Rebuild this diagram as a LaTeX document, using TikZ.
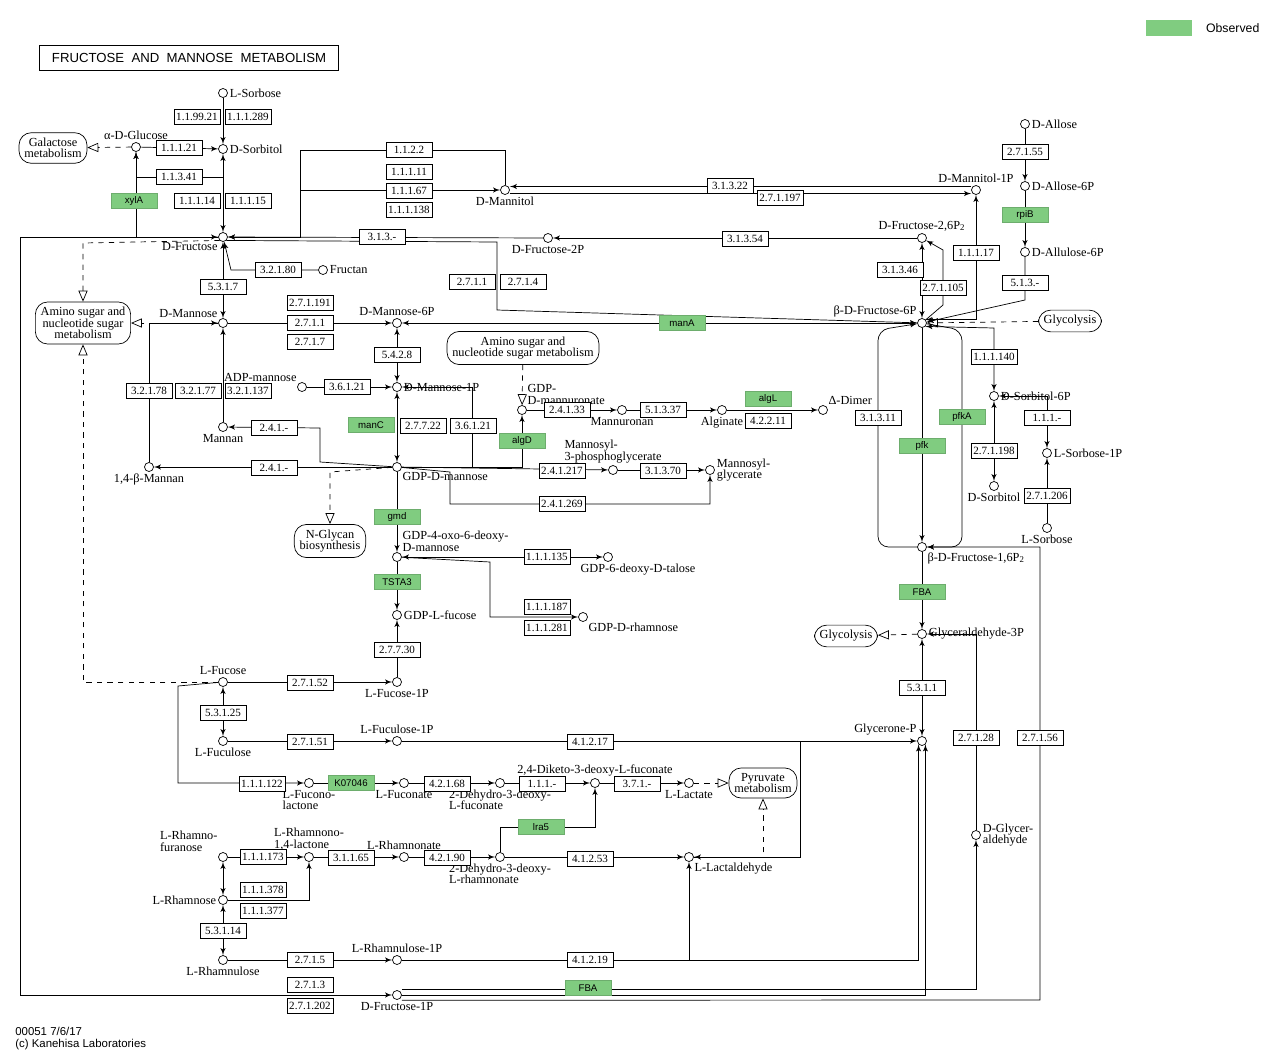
\documentclass[tikz,border=0pt]{standalone}
\usepackage{fontspec}
\setmainfont{Liberation Serif}
\newfontfamily\kegsans{Liberation Sans}
\usetikzlibrary{arrows, positioning}
\definecolor{obsgreen}{RGB}{128,204,128}

\begin{document}
\begin{tikzpicture}[
    x=0.02cm, y=-0.02cm,
    font=\fontsize{7}{7.5}\selectfont,
    cpd/.style={circle, draw, fill=white, inner sep=0pt, minimum size=0.18cm},
    lb/.style={inner sep=1pt, align=left, font=\fontsize{7}{6.5}\selectfont},
    ec/.style={rectangle, draw, fill=white, font=\fontsize{6.3}{6.3}\selectfont, minimum width=0.92cm, minimum height=0.3cm, inner sep=1pt},
    gene/.style={ec, fill=obsgreen, draw=obsgreen!85!black, font=\kegsans\fontsize{5.5}{5.5}\selectfont},
    map/.style={rectangle, rounded corners=7pt, draw, fill=white, align=center, font=\fontsize{7}{6.5}\selectfont, inner sep=3pt},
    rx/.style={draw, -latex'},
    rxb/.style={draw, latex'-latex'},
    lnk/.style={draw, dashed, -open triangle 45}
]
\useasboundingbox (0,0) rectangle (1286,1055);

% Title and legend
\node[draw, thick, minimum width=5.98cm, minimum height=0.5cm, font=\kegsans\fontsize{7.5}{7.5}\selectfont] (title) at (189,58) {FRUCTOSE\ \ AND\ \ MANNOSE\ \ METABOLISM};
\node[fill=obsgreen, minimum width=0.92cm, minimum height=0.32cm, inner sep=0pt] (legbox) at (1169,28) {};
\node[right=0.15cm of legbox, font=\kegsans\fontsize{7}{7}\selectfont] (legtxt) {Observed};
\node[anchor=north west, align=left, font=\kegsans\fontsize{6.5}{6.5}\selectfont, inner sep=0pt] (credit) at (15,1027) {00051 7/6/17\\(c) Kanehisa Laboratories};

% Maps
\node[map] (galmap) at (53,148) {Galactose\\metabolism};
\node[map] (amimap) at (83,323) {Amino sugar and\\nucleotide sugar\\metabolism};
\node[map] (amimap2) at (523,348) {Amino sugar and\\nucleotide sugar metabolism};
\node[map] (nglyc) at (330,541) {N-Glycan\\biosynthesis};
\node[map] (glyco1) at (1070,321) {Glycolysis};
\node[map] (glyco2) at (846,636) {Glycolysis};
\node[map] (pyrmap) at (763,783) {Pyruvate\\metabolism};

% Compounds
\node[cpd, label={[lb]right:L-Sorbose}] (sorbL) at (223,93) {};
\node[cpd, label={[lb]above:α-D-Glucose}] (glc) at (136,147) {};
\node[cpd, label={[lb]right:D-Sorbitol}] (sorbitol) at (223,149) {};
\node[cpd, label={[lb]below left:D-Fructose}] (fru) at (223,237) {};
\node[cpd, label={[lb]below:D-Mannitol}] (mtl) at (505,190) {};
\node[cpd, label={[lb]below:D-Fructose-2P}] (fru2p) at (548,238) {};
\node[cpd, label={[lb]right:Fructan}] (fructan) at (323,270) {};
\node[cpd, label={[lb]above left:D-Mannose}] (man) at (223,323) {};
\node[cpd, label={[lb]above:D-Mannose-6P}] (m6p) at (397,323) {};
\node[cpd, label={[lb]above left:ADP-mannose}] (adpman) at (302,387) {};
\node[cpd, label={[lb]right:D-Mannose-1P}] (m1p) at (397,387) {};
\node[cpd, label={[lb]below:Mannan}] (mannan) at (223,427) {};
\node[cpd, label={[lb]below:1,4-β-Mannan}] (bmannan) at (149,467) {};
\node[cpd, label={[lb]below right:GDP-D-mannose}] (gdpman) at (397,467) {};
\node[cpd, label={[lb]above right:GDP-\\D-mannuronate}] (gdpmnu) at (522,410) {};
\node[cpd, label={[lb]below:Mannuronan}] (mnuan) at (622,410) {};
\node[cpd, label={[lb]below:Alginate}] (alg) at (722,410) {};
\node[cpd, label={[lb]above right:Δ-Dimer}] (ddimer) at (823,410) {};
\node[cpd, label={[lb]above:Mannosyl-\\3-phosphoglycerate}] (m3pg) at (613,470) {};
\node[cpd, label={[lb]right:Mannosyl-\\glycerate}] (mglyc) at (710,470) {};
\node[cpd, label={[lb]above right:GDP-4-oxo-6-deoxy-\\D-mannose}] (gdpoxo) at (397,557) {};
\node[cpd, label={[lb, xshift=0.6cm]below:GDP-6-deoxy-D-talose}] (gdptal) at (608,557) {};
\node[cpd, label={[lb]below right:GDP-D-rhamnose}] (gdprha) at (583,617) {};
\node[cpd, label={[lb]right:GDP-L-fucose}] (gdpfuc) at (397,615) {};
\node[cpd, label={[lb]above:L-Fucose}] (fuc) at (223,682) {};
\node[cpd, label={[lb]below:L-Fucose-1P}] (fuc1p) at (397,682) {};
\node[cpd, label={[lb]below:L-Fuculose}] (fcl) at (223,741) {};
\node[cpd, label={[lb]above:L-Fuculose-1P}] (fcl1p) at (397,741) {};
\node[cpd, label={[lb]below:L-Fucono-\\lactone}] (fclac) at (309,783) {};
\node[cpd, label={[lb]below:L-Fuconate}] (fcon) at (404,783) {};
\node[cpd, label={[lb]below:2-Dehydro-3-deoxy-\\L-fuconate}] (dhf) at (500,783) {};
\node[cpd, label={[lb]above:2,4-Diketo-3-deoxy-L-fuconate}] (dkf) at (595,783) {};
\node[cpd, label={[lb]below:L-Lactate}] (lac) at (689,783) {};
\node[cpd, label={[lb]above left:L-Rhamno-\\furanose}] (rhaf) at (223,857) {};
\node[cpd, label={[lb]above:L-Rhamnono-\\1,4-lactone}] (rhalac) at (309,857) {};
\node[cpd, label={[lb]above:L-Rhamnonate}] (rhaon) at (404,857) {};
\node[cpd, label={[lb]below:2-Dehydro-3-deoxy-\\L-rhamnonate}] (dhr) at (500,857) {};
\node[cpd, label={[lb]below right:L-Lactaldehyde}] (lald) at (689,857) {};
\node[cpd, label={[lb]left:L-Rhamnose}] (rha) at (223,900) {};
\node[cpd, label={[lb]below:L-Rhamnulose}] (rhu) at (223,960) {};
\node[cpd, label={[lb]above:L-Rhamnulose-1P}] (rhu1p) at (397,960) {};
\node[cpd, label={[lb]below:D-Fructose-1P}] (f1p) at (397,995) {};
\node[cpd, label={[lb]above left:Glycerone-P}] (dhap) at (922,741) {};
\node[cpd, label={[lb]right:D-Glycer-\\aldehyde}] (glyald) at (976,835) {};
\node[cpd, label={[lb]right:Glyceraldehyde-3P}] (g3p) at (922,634) {};
\node[cpd, label={[lb]below right:β-D-Fructose-1,6P\textsubscript{2}}] (fbp) at (922,547) {};
\node[cpd, label={[lb]above left:β-D-Fructose-6P}] (f6p) at (922,323) {};
\node[cpd, label={[lb]above:D-Fructose-2,6P\textsubscript{2}}] (f26bp) at (922,238) {};
\node[cpd, label={[lb]above:D-Mannitol-1P}] (mtl1p) at (976,190) {};
\node[cpd, label={[lb]right:D-Allose}] (all) at (1025,124) {};
\node[cpd, label={[lb]right:D-Allose-6P}] (all6p) at (1025,186) {};
\node[cpd, label={[lb]right:D-Allulose-6P}] (alu6p) at (1025,252) {};
\node[cpd, label={[lb]right:D-Sorbitol-6P}] (s6p) at (994,396) {};
\node[cpd, label={[lb]below:D-Sorbitol}] (sorb2) at (994,486) {};
\node[cpd, label={[lb]right:L-Sorbose-1P}] (sorb1p) at (1047,453) {};
\node[cpd, label={[lb]below:L-Sorbose}] (sorbR) at (1047,528) {};

\coordinate (brA) at (800,741);
\coordinate (brB) at (689,960);

% Reactions
\draw[rx] (sorbL) -- (sorbitol);
\draw[rx] (glc) -- (sorbitol);
\draw[rx] (223,177) -- (136,177) -- (glc);
\draw[lnk] (glc) -- (galmap);
\draw[rxb] (glc) |- (fru);
\draw[rxb] (sorbitol) -- (fru);
\draw[rxb] (fru) -| (300,190) -- (mtl);
\draw (300,190) |- (505,150) -- (mtl);
\draw[rx] ([yshift=2pt]mtl1p.west) -- ([yshift=2pt]mtl.east);
\draw[rx] ([yshift=-2pt]mtl.east) -- ([yshift=-2pt]mtl1p.west);
\draw[rxb] (f6p.north east) -| (mtl1p);
\draw[rx] (fru2p) -- (fru);
\draw[rx] (f26bp) -- (fru2p);
\draw[rx] (fructan) -- (231,270) -- (fru);
\draw[rxb] (fru) -- (man);
\draw[rx] (fru.south east) -- (497,242) -- (497,310) -- (f6p);
\draw[rx] (fru) -- (20,237) |- (f1p);
\draw[lnk] (fru.south west) -- (83,243) -- (amimap);
\draw[rx] (man) -- (m6p);
\draw[lnk] (man) -- (amimap);
\draw[rxb] (m6p) -- (f6p);
\draw[rxb] (m6p) -- (m1p);
\draw[rx] (adpman) -- (m1p);
\draw[rxb] (m1p) -- (gdpman);
\draw[rx] (gdpman) -| (472,387) -- (m1p);
\draw[rx] (mannan) -- (man);
\draw[rx] (bmannan) |- (man);
\draw[rx] (gdpman) -- (320,462) -- (320,428) -- (mannan);
\draw[rx] (gdpman) -- (bmannan);
\draw[rx] (gdpman) -| (gdpmnu);
\draw[rx] (gdpmnu) -- (mnuan);
\draw[rx] (mnuan) -- (alg);
\draw[rx] (alg) -- (ddimer);
\draw[lnk] (amimap2) -- (gdpmnu);
\draw[rx] (gdpman) -- (m3pg);
\draw[rx] (m3pg) -- (mglyc);
\draw[rx] (gdpman) -- (450,472) |- (710,504) -- (mglyc);
\draw[lnk] (gdpman) -- (330,472) -- (nglyc);
\draw[rx] (gdpman) -- (gdpoxo);
\draw[rxb] (gdpoxo) -- (gdptal);
\draw[rx] (gdpoxo) -- (490,562) |- (gdprha);
\draw[rx] (gdpoxo) -- (gdpfuc);
\draw[rx] (fuc1p) -- (gdpfuc);
\draw[rx] (fuc) -- (fuc1p);
\draw[lnk] (fuc) -- (83,682) -- (amimap);
\draw[rxb] (fuc) -- (fcl);
\draw[rx] (fuc) -- (178,686) |- (fclac);
\draw[rx] (fcl) -- (fcl1p);
\draw[rx] (fcl1p) -- (dhap);
\draw[rx] (brA) |- (lald);
\draw[rx] (fclac) -- (fcon);
\draw[rx] (fcon) -- (dhf);
\draw[rx] (dhf) -- (dkf);
\draw[rx] (dkf) -- (lac);
\draw[lnk] (lac) -- (pyrmap);
\draw[rx] (dhr) |- (595,827) -- (dkf);
\draw[lnk] (lald) -| (pyrmap);
\draw[rx] (rhaf) -- (rhalac);
\draw[rx] (rhalac) -- (rhaon);
\draw[rx] (rhaon) -- (dhr);
\draw[rx] (dhr) -- (lald);
\draw[rxb] (rhaf) -- (rha);
\draw[rx] (rha) -| (rhalac);
\draw[rxb] (rha) -- (rhu);
\draw[rx] (rhu) -- (rhu1p);
\draw[rx] (rhu1p) -| (dhap.south west);
\draw[rx] (brB) -- (lald);
\draw[rx] (f1p) -| (dhap.south east);
\draw[rx] ([yshift=3pt]f1p.east) -| (glyald);
\draw[rx] ([yshift=-3pt]f1p.east) -- (1040,1000) |- (fbp);
\draw[rx] (f6p) -- (fbp);
\draw[rx, rounded corners=6pt] (fbp) -- (878,547) -- (878,330) -- (f6p);
\draw[rx, rounded corners=6pt] (f6p) -- (962,330) -- (962,547) -- (fbp);
\draw[rx] (fbp) -- (g3p);
\draw[rxb] (g3p) -- (dhap);
\draw[lnk] (g3p) -- (glyco2);
\draw[rx] (glyald) |- (g3p);
\draw[rxb] (f26bp) -- (f6p);
\draw[rx] (f6p) -- (943,305) -- (943,250) -- (f26bp);
\draw[lnk] (glyco1) -- (f6p);
\draw[rx] (all) -- (all6p);
\draw[rx] (all6p) -- (alu6p);
\draw[rx] (alu6p) -- (1025,300) -- (f6p);
\draw[rxb] (f6p.south east) -- (994,328) -- (s6p);
\draw[rxb] (s6p) -- (sorb2);
\draw[rxb] (sorb1p) |- (s6p);
\draw[rx] (sorbR) -- (sorb1p);

% Enzymes
\node[ec] (e1) at (197,117) {1.1.99.21};
\node[ec] (e2) at (248,117) {1.1.1.289};
\node[ec] (e3) at (179,148) {1.1.1.21};
\node[ec] (e4) at (179,177) {1.1.3.41};
\node[gene] (g1) at (134,201) {xylA};
\node[ec] (e5) at (197,201) {1.1.1.14};
\node[ec] (e6) at (248,201) {1.1.1.15};
\node[ec] (e7) at (409,150) {1.1.2.2};
\node[ec] (e8) at (409,172) {1.1.1.11};
\node[ec] (e9) at (409,191) {1.1.1.67};
\node[ec] (e10) at (409,210) {1.1.1.138};
\node[ec] (e11) at (730,186) {3.1.3.22};
\node[ec] (e12) at (780,198) {2.7.1.197};
\node[ec] (e13) at (382,237) {3.1.3.-};
\node[ec] (e14) at (745,239) {3.1.3.54};
\node[ec] (e15) at (278,270) {3.2.1.80};
\node[ec] (e16) at (223,287) {5.3.1.7};
\node[ec] (e17) at (472,282) {2.7.1.1};
\node[ec] (e18) at (523,282) {2.7.1.4};
\node[ec] (e19) at (310,303) {2.7.1.191};
\node[ec] (e20) at (310,323) {2.7.1.1};
\node[ec] (e21) at (310,342) {2.7.1.7};
\node[gene] (g2) at (682,323) {manA};
\node[ec] (e22) at (397,355) {5.4.2.8};
\node[ec] (e23) at (347,387) {3.6.1.21};
\node[ec] (e24) at (149,391) {3.2.1.78};
\node[ec] (e25) at (198,391) {3.2.1.77};
\node[ec] (e26) at (248,391) {3.2.1.137};
\node[ec] (e27) at (274,428) {2.4.1.-};
\node[gene] (g3) at (371,425) {manC};
\node[ec] (e28) at (423,426) {2.7.7.22};
\node[ec] (e29) at (473,426) {3.6.1.21};
\node[gene] (g4) at (522,441) {algD};
\node[ec] (e30) at (567,410) {2.4.1.33};
\node[ec] (e31) at (663,410) {5.1.3.37};
\node[gene] (g5) at (768,399) {algL};
\node[ec] (e32) at (768,421) {4.2.2.11};
\node[ec] (e33) at (274,468) {2.4.1.-};
\node[ec] (e34) at (562,471) {2.4.1.217};
\node[ec] (e35) at (663,471) {3.1.3.70};
\node[ec] (e36) at (562,504) {2.4.1.269};
\node[gene] (g6) at (397,517) {gmd};
\node[ec] (e37) at (547,557) {1.1.1.135};
\node[gene] (g7) at (397,582) {TSTA3};
\node[ec] (e38) at (547,607) {1.1.1.187};
\node[ec] (e39) at (547,628) {1.1.1.281};
\node[ec] (e40) at (397,650) {2.7.7.30};
\node[ec] (e41) at (310,683) {2.7.1.52};
\node[ec] (e42) at (223,713) {5.3.1.25};
\node[ec] (e43) at (310,742) {2.7.1.51};
\node[ec] (e44) at (590,742) {4.1.2.17};
\node[ec] (e45) at (262,784) {1.1.1.122};
\node[gene] (g8) at (351,783) {K07046};
\node[ec] (e46) at (447,784) {4.2.1.68};
\node[ec] (e47) at (542,784) {1.1.1.-};
\node[ec] (e48) at (637,784) {3.7.1.-};
\node[gene] (g9) at (541,827) {lra5};
\node[ec] (e49) at (263,857) {1.1.1.173};
\node[ec] (e50) at (351,858) {3.1.1.65};
\node[ec] (e51) at (447,858) {4.2.1.90};
\node[ec] (e52) at (590,859) {4.1.2.53};
\node[ec] (e53) at (263,890) {1.1.1.378};
\node[ec] (e54) at (263,911) {1.1.1.377};
\node[ec] (e55) at (223,931) {5.3.1.14};
\node[ec] (e56) at (310,960) {2.7.1.5};
\node[ec] (e57) at (590,960) {4.1.2.19};
\node[ec] (e58) at (310,985) {2.7.1.3};
\node[ec] (e59) at (310,1006) {2.7.1.202};
\node[gene] (g10) at (588,988) {FBA};
\node[gene] (g11) at (922,592) {FBA};
\node[ec] (e60) at (922,688) {5.3.1.1};
\node[ec] (e61) at (976,738) {2.7.1.28};
\node[ec] (e62) at (1040,738) {2.7.1.56};
\node[ec] (e63) at (878,418) {3.1.3.11};
\node[gene] (g12) at (922,446) {pfk};
\node[gene] (g13) at (962,417) {pfkA};
\node[ec] (e64) at (900,270) {3.1.3.46};
\node[ec] (e65) at (943,288) {2.7.1.105};
\node[ec] (e66) at (976,253) {1.1.1.17};
\node[ec] (e67) at (1025,152) {2.7.1.55};
\node[gene] (g14) at (1025,215) {rpiB};
\node[ec] (e68) at (1025,283) {5.1.3.-};
\node[ec] (e69) at (994,357) {1.1.1.140};
\node[ec] (e70) at (1047,418) {1.1.1.-};
\node[ec] (e71) at (994,451) {2.7.1.198};
\node[ec] (e72) at (1047,496) {2.7.1.206};
\end{tikzpicture}
\end{document}
